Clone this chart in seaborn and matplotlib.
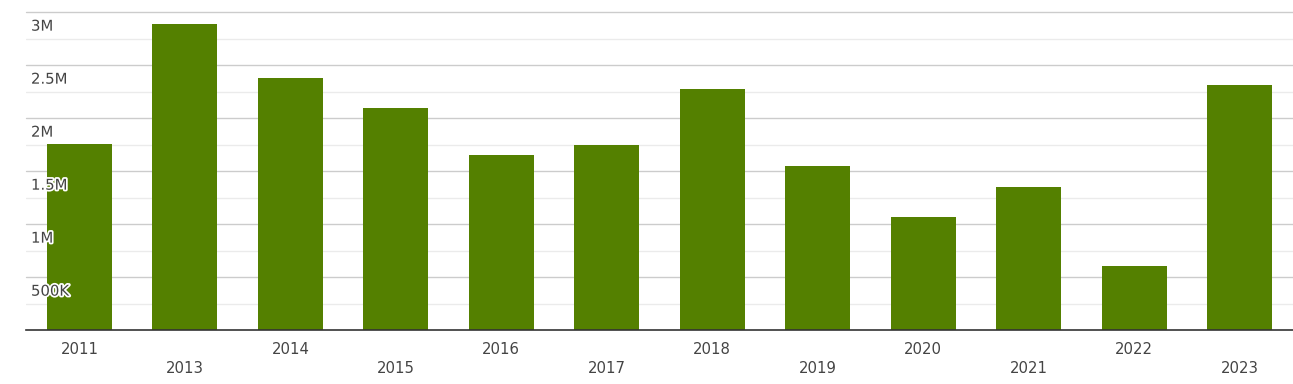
import matplotlib
matplotlib.use("Agg")
import matplotlib.pyplot as plt
import matplotlib.patheffects as pe
from matplotlib.transforms import ScaledTranslation
import seaborn as sns
import pandas as pd

years = ["2011", "2013", "2014", "2015", "2016", "2017", "2018", "2019", "2020", "2021", "2022", "2023"]
values = [1755000, 2887000, 2377000, 2094000, 1651000, 1745000, 2274000, 1547000, 1066000, 1349000, 604000, 2311000]
ytick_values = [500000, 1000000, 1500000, 2000000, 2500000, 3000000]
ytick_labels = ["500K", "1M", "1.5M", "2M", "2.5M", "3M"]

df = pd.DataFrame({"year": years, "value": values})

sns.set_style("white")
plt.rcParams["font.family"] = ["DejaVu Sans"]

fig = plt.figure(figsize=(12.93, 3.84), dpi=100)
ax = fig.add_axes([26 / 1293, 54 / 384, 1267 / 1293, 318 / 384])

sns.barplot(data=df, x="year", y="value", order=years, color="#548000",
            saturation=1, width=0.616, linewidth=0, edgecolor="none", ax=ax, zorder=3)

ax.set_ylim(0, 3000000)
ax.set_xlim(-0.507, len(years) - 1 + 0.507)
ax.set_xlabel("")
ax.set_ylabel("")

# gridlines
minor = [v - 250000 for v in ytick_values]
for v in minor:
    ax.axhline(v, color="#ebebeb", lw=1, zorder=1)
for v in ytick_values:
    ax.axhline(v, color="#cccccc", lw=1, zorder=1, clip_on=False)

ax.set_yticks([])
for s in ["top", "right", "left"]:
    ax.spines[s].set_visible(False)
ax.spines["bottom"].set_color("#333333")
ax.spines["bottom"].set_linewidth(1.2)
ax.spines["bottom"].set_zorder(4)

# y labels inside the plot
for v, lab in zip(ytick_values, ytick_labels):
    ax.annotate(lab, xy=(0, v), xycoords=("axes fraction", "data"),
                xytext=(3.6, -4.8), textcoords="offset points",
                ha="left", va="top", fontsize=10.7, color="#444444", zorder=5,
                path_effects=[pe.withStroke(linewidth=2.5, foreground="white")])

ax.tick_params(axis="x", length=0, pad=8.3, labelsize=10.7, labelcolor="#444444")
for i, lab in enumerate(ax.get_xticklabels()):
    if i % 2 == 1:
        lab.set_transform(lab.get_transform() + ScaledTranslation(0, -0.195, fig.dpi_scale_trans))

fig.savefig("out.png", dpi=100)
